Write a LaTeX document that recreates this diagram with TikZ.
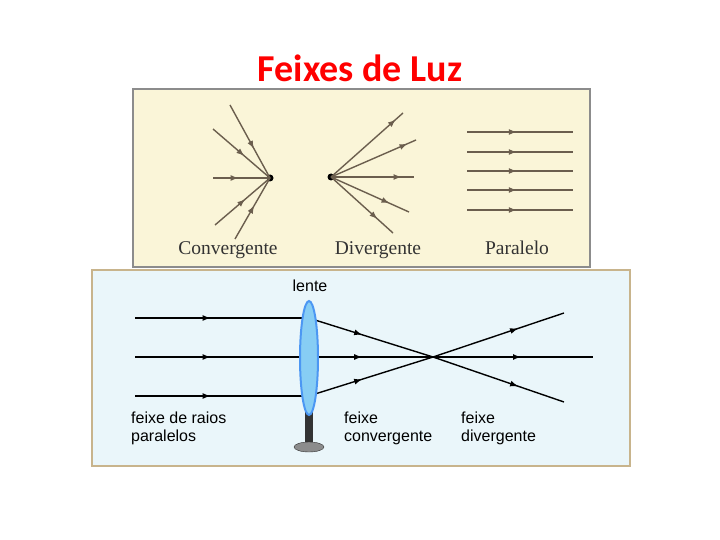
\documentclass[tikz,border=0pt]{standalone}
\usepackage{fontspec}
\setmainfont{Liberation Serif}
\setsansfont{Liberation Sans}
\newfontfamily\titlefont{Carlito}
\usetikzlibrary{decorations.markings,arrows.meta}
\definecolor{cream}{HTML}{FAF5D8}
\definecolor{skyfill}{HTML}{EAF6FA}
\definecolor{rayline}{HTML}{6B5E4E}
\definecolor{lensblue}{HTML}{5FBDF0}
\definecolor{tanline}{HTML}{C8B48C}
\tikzset{
  mark at/.style={postaction={decorate},decoration={markings,
    mark=at position #1 with {\arrow{Latex[length=8pt,width=6pt]}}}},
  ray/.style={rayline, line width=1.4pt},
  beam/.style={black, line width=1.4pt},
  toplabel/.style={font=\fontsize{19.5}{22}\selectfont, text=black!80},
  botlabel/.style={font=\sffamily\fontsize{16}{18}\selectfont, align=left, anchor=north west, inner sep=0pt}
}
\begin{document}
\begin{tikzpicture}[x=1pt,y=-1pt]
  \useasboundingbox (0,0) rectangle (720,540);
  % title
  \node (title) at (360,68) {\titlefont\bfseries\fontsize{38}{42}\selectfont\color{red}Feixes de Luz};

  % top panel
  \draw[fill=cream, draw=black!45, line width=1.2pt] (133,89) rectangle (590,267);
  \fill (270,178) circle (3.5);
  \coordinate (conv) at (270,178);
  \foreach \x/\y/\p in {230/105/0.6, 213/129/0.55, 213/178/0.45, 215/225/0.55, 235/239/0.55}
    \draw[ray, mark at=\p] (\x,\y) -- (conv);
  \fill (331,177) circle (3.5);
  \coordinate (div) at (331,177);
  \foreach \x/\y/\p in {403/113/0.9, 416/140/0.9, 414/177/0.85, 409/212/0.75, 393/233/0.75}
    \draw[ray, mark at=\p] (div) -- (\x,\y);
  \foreach \y in {132,152,171,190,210}
    \draw[ray, mark at=0.47] (467,\y) -- (573,\y);
  \node[toplabel] (convtext) at (228,250) {Convergente};
  \node[toplabel] (divtext) at (378,250) {Divergente};
  \node[toplabel] (partext) at (517,248) {Paralelo};

  % bottom panel
  \draw[fill=skyfill, draw=tanline, line width=1.5pt] (92,270) rectangle (630,466);
  \coordinate (focus) at (433,357);
  \draw[beam, mark at=0.45] (135,318) -- (303,318);
  \draw[beam, mark at=0.45] (135,357) -- (303,357);
  \draw[beam, mark at=0.45] (135,396) -- (303,396);
  \draw[beam, mark at=0.4] (315,320) -- (focus);
  \draw[beam, mark at=0.4] (315,357) -- (focus);
  \draw[beam, mark at=0.4] (315,394) -- (focus);
  \draw[beam, mark at=0.65] (focus) -- (564,402);
  \draw[beam, mark at=0.65] (focus) -- (564,313);
  \draw[beam, mark at=0.55] (focus) -- (593,357);
  % lens and stand
  \fill[black!80] (305,412) rectangle (313,445);
  \draw[fill=black!45, draw=black!80] (309,447) ellipse (15 and 5);
  \draw[fill=lensblue!75, draw=lensblue!80!blue, line width=2pt] (309,358) ellipse (9 and 57);
  \node[font=\sffamily\fontsize{16}{18}\selectfont] (lente) at (310,286) {lente};
  \node[botlabel] (paral) at (131,412) {feixe de raios\\paralelos};
  \node[botlabel] (convb) at (344,412) {feixe\\convergente};
  \node[botlabel] (divb) at (461,412) {feixe\\divergente};
\end{tikzpicture}
\end{document}
